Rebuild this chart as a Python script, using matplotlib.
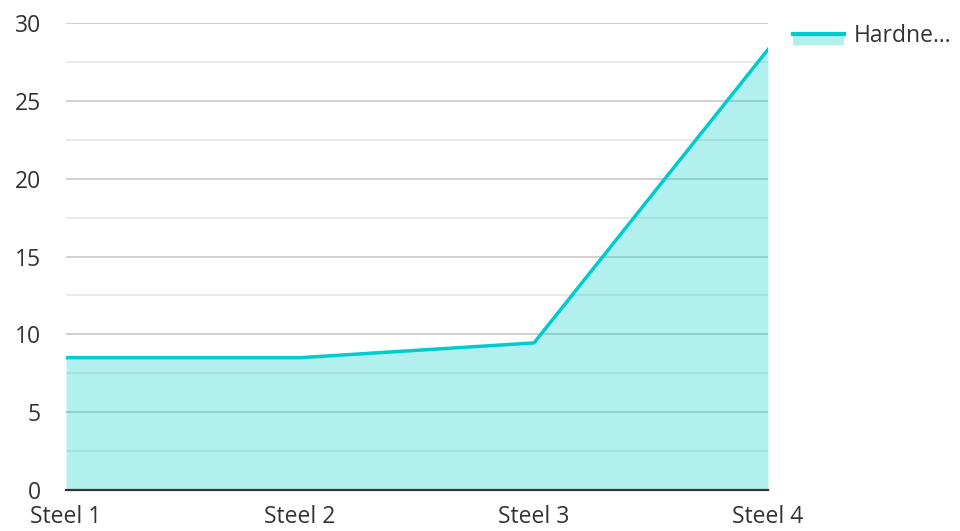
import matplotlib
matplotlib.use("Agg")
import matplotlib.pyplot as plt
from matplotlib.lines import Line2D
from matplotlib.legend_handler import HandlerBase
import numpy as np

plt.rcParams['font.family'] = ['Open Sans', 'DejaVu Sans']

categories = ["Steel 1", "Steel 2", "Steel 3", "Steel 4"]
hardness = [8.5, 8.5, 9.45, 28.3]
series_name = "Hardne..."

line_color = "#00CCCC"
fill_alpha = 0.3


class AreaHandler(HandlerBase):
    def create_artists(self, legend, orig, xd, yd, w, h, fontsize, trans):
        rect = plt.Rectangle((xd, yd - h * 0.2), w, h * 0.7,
                             facecolor=line_color, alpha=fill_alpha,
                             edgecolor="none", transform=trans)
        ln = Line2D([xd, xd + w], [yd + h * 0.5, yd + h * 0.5],
                    color=line_color, lw=3, transform=trans)
        return [rect, ln]


fig = plt.figure(figsize=(9.6, 5.31), dpi=100)
ax = fig.add_axes([66 / 960, 1 - 490 / 531, (768 - 66) / 960, (490 - 23) / 531])

x = np.arange(len(categories))
ax.fill_between(x, 0, hardness, color=line_color, alpha=fill_alpha, lw=0, zorder=3)
ax.plot(x, hardness, color=line_color, lw=2.5, zorder=4)

ax.set_xlim(0, len(categories) - 1)
ax.set_ylim(0, 30)
ax.set_yticks(np.arange(0, 31, 5))
ax.set_yticks(np.arange(2.5, 30, 5), minor=True)
ax.set_xticks(x)
ax.set_xticklabels(categories)

ax.grid(axis='y', which='major', color='#c8c8c8', lw=1.2, zorder=1)
ax.grid(axis='y', which='minor', color='#e6e6e6', lw=1.2, zorder=1)
ax.set_axisbelow(True)
for s in ['top', 'right', 'left']:
    ax.spines[s].set_visible(False)
ax.spines['bottom'].set_color('#333333')
ax.spines['bottom'].set_linewidth(1.6)
ax.spines['bottom'].set_zorder(5)

ax.tick_params(axis='both', which='both', length=0, labelsize=16.5, colors='#333333')
ax.tick_params(axis='y', pad=18)
ax.tick_params(axis='x', pad=11)

leg = fig.legend([object()], [series_name], handler_map={object: AreaHandler()},
                 loc='upper left', bbox_to_anchor=(784 / 960, 1 - 15 / 531),
                 frameon=False, fontsize=16.5, handlelength=2.2, handletextpad=0.45,
                 borderaxespad=0)
for t in leg.get_texts():
    t.set_color('#333333')

fig.savefig("out.png", dpi=100)
